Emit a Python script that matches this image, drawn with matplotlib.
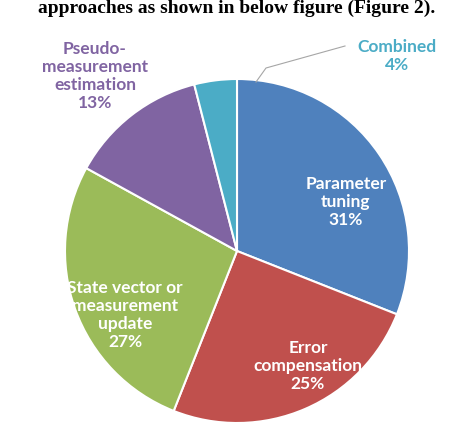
import matplotlib
matplotlib.use("Agg")
import matplotlib.pyplot as plt

labels = ["Parameter\ntuning", "Error\ncompensation", "State vector or\nmeasurement\nupdate", "Pseudo-\nmeasurement\nestimation", "Combined"]
values = [31, 25, 27, 13, 4]
colors = ["#4F81BD", "#C0504D", "#9BBB59", "#8064A2", "#4BACC6"]

fig = plt.figure(figsize=(4.74, 4.44), dpi=100)
ax = fig.add_axes([0, 0, 1, 1])
ax.pie(values, colors=colors, startangle=-90, counterclock=True, center=(237, 251), radius=172,
       frame=True, wedgeprops=dict(edgecolor="white", linewidth=1.5))
ax.set_xlim(0, 474); ax.set_ylim(444, 0); ax.set_aspect("equal"); ax.axis("off")

fp = dict(family=["Lato", "DejaVu Sans"], fontweight="bold", fontsize=12.5, ha="center", va="center", linespacing=1.15)
ax.text(346, 202, f"{labels[0]}\n{values[0]}%", color="white", **fp)
ax.text(308, 366, f"{labels[1]}\n{values[1]}%", color="white", **fp)
ax.text(125, 315, f"{labels[2]}\n{values[2]}%", color="white", **fp)
ax.text(95, 76, f"{labels[3]}\n{values[3]}%", color="#8064A2", **fp)
ax.text(397, 56, f"{labels[4]}\n{values[4]}%", color="#4BACC6", **fp)
ax.plot([256, 266, 345], [82, 68, 46], color="#A6A6A6", lw=0.8)
ax.text(237, 8, "approaches as shown in below figure (Figure 2).", family="Liberation Serif",
        fontweight="bold", fontsize=14, ha="center", va="center")
fig.savefig("out.png", dpi=100)
